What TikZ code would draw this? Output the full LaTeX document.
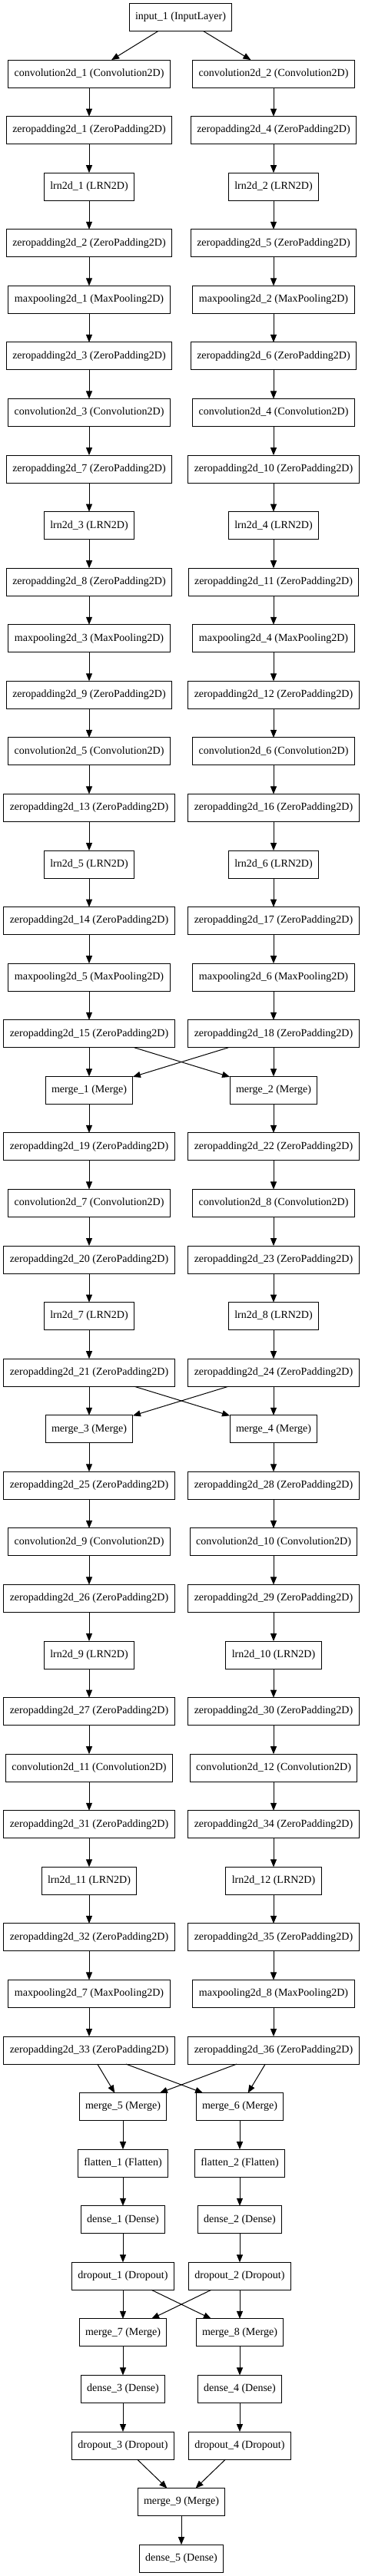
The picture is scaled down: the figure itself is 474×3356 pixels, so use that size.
\documentclass[tikz,border=0pt]{standalone}
\usepackage{fontspec}
\setmainfont{Liberation Serif}
\usetikzlibrary{positioning,arrows.meta}

\begin{document}
\begin{tikzpicture}[x=1pt,y=1pt,node distance=37.57pt]
\tikzstyle{every node}=[draw,shape=rectangle,line width=1pt,outer sep=0pt,inner xsep=8pt,minimum height=36pt,font=\fontsize{14pt}{16pt}\selectfont];
\tikzstyle{flow}=[line width=1pt,-{Triangle[length=10pt,width=8pt]}];
\useasboundingbox (0,0) rectangle (474,-3356);
% input
\node (in1) at (235,-22.5) {input\_1 (InputLayer)};
% left branch
\node (conv1) [below=of in1,xshift=-119pt] {convolution2d\_1 (Convolution2D)};
\node (zp1) [below=of conv1] {zeropadding2d\_1 (ZeroPadding2D)};
\node (lrn1) [below=of zp1] {lrn2d\_1 (LRN2D)};
\node (zp2) [below=of lrn1] {zeropadding2d\_2 (ZeroPadding2D)};
\node (pool1) [below=of zp2] {maxpooling2d\_1 (MaxPooling2D)};
\node (zp3) [below=of pool1] {zeropadding2d\_3 (ZeroPadding2D)};
\node (conv3) [below=of zp3] {convolution2d\_3 (Convolution2D)};
\node (zp7) [below=of conv3] {zeropadding2d\_7 (ZeroPadding2D)};
\node (lrn3) [below=of zp7] {lrn2d\_3 (LRN2D)};
\node (zp8) [below=of lrn3] {zeropadding2d\_8 (ZeroPadding2D)};
\node (pool3) [below=of zp8] {maxpooling2d\_3 (MaxPooling2D)};
\node (zp9) [below=of pool3] {zeropadding2d\_9 (ZeroPadding2D)};
\node (conv5) [below=of zp9] {convolution2d\_5 (Convolution2D)};
\node (zp13) [below=of conv5] {zeropadding2d\_13 (ZeroPadding2D)};
\node (lrn5) [below=of zp13] {lrn2d\_5 (LRN2D)};
\node (zp14) [below=of lrn5] {zeropadding2d\_14 (ZeroPadding2D)};
\node (pool5) [below=of zp14] {maxpooling2d\_5 (MaxPooling2D)};
\node (zp15) [below=of pool5] {zeropadding2d\_15 (ZeroPadding2D)};
\node (merge1) [below=of zp15] {merge\_1 (Merge)};
\node (zp19) [below=of merge1] {zeropadding2d\_19 (ZeroPadding2D)};
\node (conv7) [below=of zp19] {convolution2d\_7 (Convolution2D)};
\node (zp20) [below=of conv7] {zeropadding2d\_20 (ZeroPadding2D)};
\node (lrn7) [below=of zp20] {lrn2d\_7 (LRN2D)};
\node (zp21) [below=of lrn7] {zeropadding2d\_21 (ZeroPadding2D)};
\node (merge3) [below=of zp21] {merge\_3 (Merge)};
\node (zp25) [below=of merge3] {zeropadding2d\_25 (ZeroPadding2D)};
\node (conv9) [below=of zp25] {convolution2d\_9 (Convolution2D)};
\node (zp26) [below=of conv9] {zeropadding2d\_26 (ZeroPadding2D)};
\node (lrn9) [below=of zp26] {lrn2d\_9 (LRN2D)};
\node (zp27) [below=of lrn9] {zeropadding2d\_27 (ZeroPadding2D)};
\node (conv11) [below=of zp27] {convolution2d\_11 (Convolution2D)};
\node (zp31) [below=of conv11] {zeropadding2d\_31 (ZeroPadding2D)};
\node (lrn11) [below=of zp31] {lrn2d\_11 (LRN2D)};
\node (zp32) [below=of lrn11] {zeropadding2d\_32 (ZeroPadding2D)};
\node (pool7) [below=of zp32] {maxpooling2d\_7 (MaxPooling2D)};
\node (zp33) [below=of pool7] {zeropadding2d\_33 (ZeroPadding2D)};
% right branch
\node (conv2) [below=of in1,xshift=121pt] {convolution2d\_2 (Convolution2D)};
\node (zp4) [below=of conv2] {zeropadding2d\_4 (ZeroPadding2D)};
\node (lrn2) [below=of zp4] {lrn2d\_2 (LRN2D)};
\node (zp5) [below=of lrn2] {zeropadding2d\_5 (ZeroPadding2D)};
\node (pool2) [below=of zp5] {maxpooling2d\_2 (MaxPooling2D)};
\node (zp6) [below=of pool2] {zeropadding2d\_6 (ZeroPadding2D)};
\node (conv4) [below=of zp6] {convolution2d\_4 (Convolution2D)};
\node (zp10) [below=of conv4] {zeropadding2d\_10 (ZeroPadding2D)};
\node (lrn4) [below=of zp10] {lrn2d\_4 (LRN2D)};
\node (zp11) [below=of lrn4] {zeropadding2d\_11 (ZeroPadding2D)};
\node (pool4) [below=of zp11] {maxpooling2d\_4 (MaxPooling2D)};
\node (zp12) [below=of pool4] {zeropadding2d\_12 (ZeroPadding2D)};
\node (conv6) [below=of zp12] {convolution2d\_6 (Convolution2D)};
\node (zp16) [below=of conv6] {zeropadding2d\_16 (ZeroPadding2D)};
\node (lrn6) [below=of zp16] {lrn2d\_6 (LRN2D)};
\node (zp17) [below=of lrn6] {zeropadding2d\_17 (ZeroPadding2D)};
\node (pool6) [below=of zp17] {maxpooling2d\_6 (MaxPooling2D)};
\node (zp18) [below=of pool6] {zeropadding2d\_18 (ZeroPadding2D)};
\node (merge2) [below=of zp18] {merge\_2 (Merge)};
\node (zp22) [below=of merge2] {zeropadding2d\_22 (ZeroPadding2D)};
\node (conv8) [below=of zp22] {convolution2d\_8 (Convolution2D)};
\node (zp23) [below=of conv8] {zeropadding2d\_23 (ZeroPadding2D)};
\node (lrn8) [below=of zp23] {lrn2d\_8 (LRN2D)};
\node (zp24) [below=of lrn8] {zeropadding2d\_24 (ZeroPadding2D)};
\node (merge4) [below=of zp24] {merge\_4 (Merge)};
\node (zp28) [below=of merge4] {zeropadding2d\_28 (ZeroPadding2D)};
\node (conv10) [below=of zp28] {convolution2d\_10 (Convolution2D)};
\node (zp29) [below=of conv10] {zeropadding2d\_29 (ZeroPadding2D)};
\node (lrn10) [below=of zp29] {lrn2d\_10 (LRN2D)};
\node (zp30) [below=of lrn10] {zeropadding2d\_30 (ZeroPadding2D)};
\node (conv12) [below=of zp30] {convolution2d\_12 (Convolution2D)};
\node (zp34) [below=of conv12] {zeropadding2d\_34 (ZeroPadding2D)};
\node (lrn12) [below=of zp34] {lrn2d\_12 (LRN2D)};
\node (zp35) [below=of lrn12] {zeropadding2d\_35 (ZeroPadding2D)};
\node (pool8) [below=of zp35] {maxpooling2d\_8 (MaxPooling2D)};
\node (zp36) [below=of pool8] {zeropadding2d\_36 (ZeroPadding2D)};
% dense part
\node (merge5) [below=of zp33,xshift=44pt] {merge\_5 (Merge)};
\node (flat1) [below=of merge5] {flatten\_1 (Flatten)};
\node (dense1) [below=of flat1] {dense\_1 (Dense)};
\node (drop1) [below=of dense1] {dropout\_1 (Dropout)};
\node (merge7) [below=of drop1] {merge\_7 (Merge)};
\node (dense3) [below=of merge7] {dense\_3 (Dense)};
\node (drop3) [below=of dense3] {dropout\_3 (Dropout)};
\node (merge6) [below=of zp36,xshift=-44pt] {merge\_6 (Merge)};
\node (flat2) [below=of merge6] {flatten\_2 (Flatten)};
\node (dense2) [below=of flat2] {dense\_2 (Dense)};
\node (drop2) [below=of dense2] {dropout\_2 (Dropout)};
\node (merge8) [below=of drop2] {merge\_8 (Merge)};
\node (dense4) [below=of merge8] {dense\_4 (Dense)};
\node (drop4) [below=of dense4] {dropout\_4 (Dropout)};
\node (merge9) [below=of drop3,xshift=76pt] {merge\_9 (Merge)};
\node (dense5) [below=of merge9] {dense\_5 (Dense)};
% connections, left
\path[flow] (in1) edge (conv1) (conv1) edge (zp1) (zp1) edge (lrn1)
  (lrn1) edge (zp2) (zp2) edge (pool1) (pool1) edge (zp3) (zp3) edge (conv3)
  (conv3) edge (zp7) (zp7) edge (lrn3) (lrn3) edge (zp8) (zp8) edge (pool3)
  (pool3) edge (zp9) (zp9) edge (conv5) (conv5) edge (zp13) (zp13) edge (lrn5)
  (lrn5) edge (zp14) (zp14) edge (pool5) (pool5) edge (zp15)
  (zp15) edge (merge1) (zp15) edge (merge2)
  (merge1) edge (zp19) (zp19) edge (conv7) (conv7) edge (zp20) (zp20) edge (lrn7)
  (lrn7) edge (zp21) (zp21) edge (merge3) (zp21) edge (merge4)
  (merge3) edge (zp25) (zp25) edge (conv9) (conv9) edge (zp26) (zp26) edge (lrn9)
  (lrn9) edge (zp27) (zp27) edge (conv11) (conv11) edge (zp31) (zp31) edge (lrn11)
  (lrn11) edge (zp32) (zp32) edge (pool7) (pool7) edge (zp33)
  (zp33) edge (merge5) (zp33) edge (merge6);
% connections, right
\path[flow] (in1) edge (conv2) (conv2) edge (zp4) (zp4) edge (lrn2)
  (lrn2) edge (zp5) (zp5) edge (pool2) (pool2) edge (zp6) (zp6) edge (conv4)
  (conv4) edge (zp10) (zp10) edge (lrn4) (lrn4) edge (zp11) (zp11) edge (pool4)
  (pool4) edge (zp12) (zp12) edge (conv6) (conv6) edge (zp16) (zp16) edge (lrn6)
  (lrn6) edge (zp17) (zp17) edge (pool6) (pool6) edge (zp18)
  (zp18) edge (merge1) (zp18) edge (merge2)
  (merge2) edge (zp22) (zp22) edge (conv8) (conv8) edge (zp23) (zp23) edge (lrn8)
  (lrn8) edge (zp24) (zp24) edge (merge3) (zp24) edge (merge4)
  (merge4) edge (zp28) (zp28) edge (conv10) (conv10) edge (zp29) (zp29) edge (lrn10)
  (lrn10) edge (zp30) (zp30) edge (conv12) (conv12) edge (zp34) (zp34) edge (lrn12)
  (lrn12) edge (zp35) (zp35) edge (pool8) (pool8) edge (zp36)
  (zp36) edge (merge5) (zp36) edge (merge6);
% connections, dense part
\path[flow] (merge5) edge (flat1) (flat1) edge (dense1) (dense1) edge (drop1)
  (drop1) edge (merge7) (drop1) edge (merge8)
  (merge6) edge (flat2) (flat2) edge (dense2) (dense2) edge (drop2)
  (drop2) edge (merge7) (drop2) edge (merge8)
  (merge7) edge (dense3) (dense3) edge (drop3) (drop3) edge (merge9)
  (merge8) edge (dense4) (dense4) edge (drop4) (drop4) edge (merge9)
  (merge9) edge (dense5);
\end{tikzpicture}
\end{document}
